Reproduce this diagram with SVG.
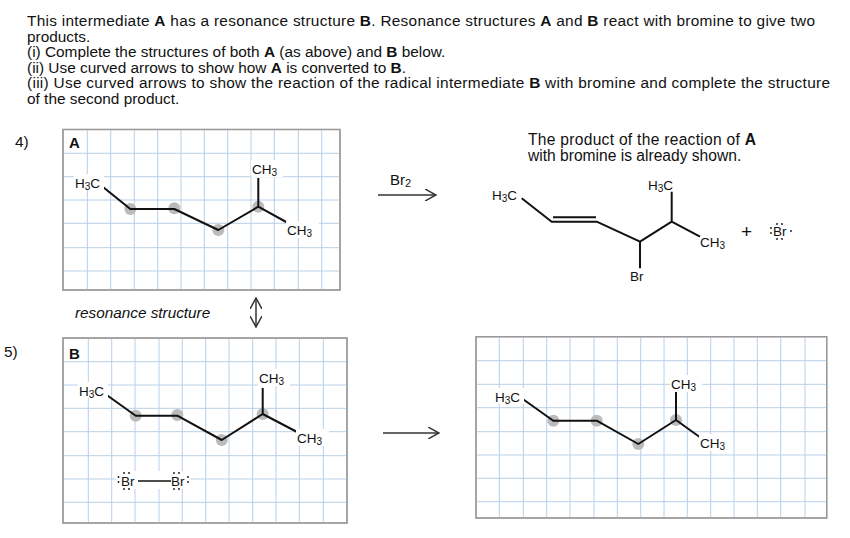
<svg xmlns="http://www.w3.org/2000/svg" width="850" height="538" viewBox="0 0 850 538">
<defs>
<style>
text{font-family:"Liberation Sans",Arial,sans-serif;fill:#111}
.h{font-size:15.4px}
.l{font-size:13.5px}
.s{font-size:10px}
.grid{stroke:#b8d0e8;stroke-width:1}
.box{fill:#fff;stroke:#999;stroke-width:1.3}
.frame{fill:none;stroke:#999;stroke-width:1.3}
.bond{stroke:#111;stroke-width:2;fill:none;stroke-linejoin:round}
.dot{fill:#bbb}
.arr{stroke:#333;stroke-width:1.5;fill:none}
.lp{fill:#111}
</style>
<marker id="ah" viewBox="0 0 12 12" refX="11" refY="6" markerWidth="12" markerHeight="12" orient="auto-start-reverse" markerUnits="userSpaceOnUse"><path d="M0,0 L11,6 L0,12" fill="none" stroke="#333" stroke-width="1.5"/></marker>
</defs>
<rect width="850" height="538" fill="#fff"/>
<g id="header" class="h">
<text x="27" y="26" textLength="788" lengthAdjust="spacing">This intermediate <tspan font-weight="bold">A</tspan> has a resonance structure <tspan font-weight="bold">B</tspan>. Resonance structures <tspan font-weight="bold">A</tspan> and <tspan font-weight="bold">B</tspan> react with bromine to give two</text>
<text x="27" y="41.5">products.</text>
<text x="27" y="57">(i) Complete the structures of both <tspan font-weight="bold">A</tspan> (as above) and <tspan font-weight="bold">B</tspan> below.</text>
<text x="27" y="72.5">(ii) Use curved arrows to show how <tspan font-weight="bold">A</tspan> is converted to <tspan font-weight="bold">B</tspan>.</text>
<text x="27" y="88" textLength="803" lengthAdjust="spacing">(iii) Use curved arrows to show the reaction of the radical intermediate <tspan font-weight="bold">B</tspan> with bromine and complete the structure</text>
<text x="27" y="103.5">of the second product.</text>
<text x="15" y="147">4)</text>
<text x="4" y="357">5)</text>
</g>
<g id="nodeA">
<rect class="box" x="63" y="129.5" width="277" height="160.5"/>
<g class="grid">
<path d="M87.3,130V290M110.7,130V290M134.3,130V290M157.7,130V290M181,130V290M204.3,130V290M227.7,130V290M251,130V290M274.3,130V290M298.3,130V290M321.7,130V290"/>
<path d="M63,153.3H340M63,176.7H340M63,200H340M63,223.3H340M63,247.7H340M63,271H340"/>
</g>
<rect class="frame" x="63" y="129.5" width="277" height="160.5"/>
<text x="69" y="148" font-size="15" font-weight="bold">A</text>
<circle class="dot" cx="130.3" cy="209" r="6"/><circle class="dot" cx="174.3" cy="208.3" r="6"/><circle class="dot" cx="218.3" cy="230" r="6"/><circle class="dot" cx="258.3" cy="206.7" r="6"/>
<path class="bond" d="M102.7,186.7L130.3,209H174.3L218.3,230L258.3,206.7L288,223M258.3,206.7V178"/>
<rect x="74" y="174" width="30" height="16" fill="#fff"/><text class="l" x="75" y="188">H<tspan class="s" dy="2">3</tspan><tspan dy="-2">C</tspan></text>
<rect x="251" y="160" width="32" height="17" fill="#fff"/><text class="l" x="252" y="174">CH<tspan class="s" dy="2">3</tspan></text>
<rect x="286" y="221" width="33" height="17" fill="#fff"/><text class="l" x="287" y="235">CH<tspan class="s" dy="2">3</tspan></text>
</g>
<g id="nodeB">
<rect class="box" x="63" y="338" width="284" height="185"/>
<g class="grid">
<path d="M88.3,338V523M111.7,338V523M135,338V523M159,338V523M182.3,338V523M205.7,338V523M229,338V523M252.7,338V523M276,338V523M299.3,338V523M323.3,338V523"/>
<path d="M63,361.7H347M63,385H347M63,408.3H347M63,431.7H347M63,455.7H347M63,479H347M63,502.3H347"/>
</g>
<rect class="frame" x="63" y="338" width="284" height="185"/>
<text x="69" y="359" font-size="15" font-weight="bold">B</text>
<circle class="dot" cx="135.7" cy="415.7" r="6"/><circle class="dot" cx="177.3" cy="415" r="6"/><circle class="dot" cx="221.7" cy="440" r="6"/><circle class="dot" cx="262.7" cy="414" r="6"/>
<path class="bond" d="M106.7,395L135.7,415.7H177.3L221.7,440L262.7,414L299,433M262.7,414V388"/>
<rect x="78" y="382" width="30" height="16" fill="#fff"/><text class="l" x="79" y="396">H<tspan class="s" dy="2">3</tspan><tspan dy="-2">C</tspan></text>
<rect x="258" y="369" width="32" height="17" fill="#fff"/><text class="l" x="259" y="383">CH<tspan class="s" dy="2">3</tspan></text>
<rect x="296" y="429" width="33" height="17" fill="#fff"/><text class="l" x="297" y="443">CH<tspan class="s" dy="2">3</tspan></text>
<g id="br2">
<rect x="116" y="471" width="74" height="18" fill="#fff"/>
<text class="l" x="121" y="486">Br</text><text class="l" x="171" y="486">Br</text>
<path d="M138,481H171" stroke="#111" stroke-width="1.3"/>
<g class="lp">
<circle cx="118.5" cy="477" r="0.9"/><circle cx="118.5" cy="482" r="0.9"/>
<circle cx="124" cy="473" r="0.9"/><circle cx="129" cy="473" r="0.9"/>
<circle cx="124" cy="489" r="0.9"/><circle cx="129" cy="489" r="0.9"/>
<circle cx="174" cy="473" r="0.9"/><circle cx="179" cy="473" r="0.9"/>
<circle cx="174" cy="489" r="0.9"/><circle cx="179" cy="489" r="0.9"/>
<circle cx="188" cy="477" r="0.9"/><circle cx="188" cy="482" r="0.9"/>
</g>
</g>
</g>
<g id="nodeProductB">
<rect class="box" x="476" y="336.7" width="350.7" height="181.3"/>
<g class="grid">
<path d="M499.3,337V518M523.3,337V518M546.7,337V518M570,337V518M594,337V518M617.3,337V518M640.7,337V518M664,337V518M687.3,337V518M710.7,337V518M734,337V518M757.3,337V518M780.7,337V518M805,337V518"/>
<path d="M476,360.7H826.7M476,384.3H826.7M476,407.7H826.7M476,431.7H826.7M476,455H826.7M476,478.3H826.7M476,501.7H826.7"/>
</g>
<rect class="frame" x="476" y="336.7" width="350.7" height="181.3"/>
<circle class="dot" cx="553.3" cy="420.7" r="6"/><circle class="dot" cx="596.7" cy="420.7" r="6"/><circle class="dot" cx="638.3" cy="444" r="6"/><circle class="dot" cx="676" cy="420" r="6"/>
<path class="bond" d="M521.7,398.3L553.3,420.7H596.7L638.3,444L676,420L700,437.3M676,420V391.7"/>
<rect x="494" y="388" width="30" height="16" fill="#fff"/><text class="l" x="495" y="402">H<tspan class="s" dy="2">3</tspan><tspan dy="-2">C</tspan></text>
<rect x="670" y="375" width="32" height="17" fill="#fff"/><text class="l" x="671" y="389">CH<tspan class="s" dy="2">3</tspan></text>
<rect x="699" y="434" width="33" height="17" fill="#fff"/><text class="l" x="700" y="448">CH<tspan class="s" dy="2">3</tspan></text>
</g>
<g id="nodeProductA">
<text x="528" y="144.5" font-size="15.6" textLength="228" lengthAdjust="spacing">The product of the reaction of <tspan font-weight="bold">A</tspan></text>
<text x="528" y="160.5" font-size="15.6">with bromine is already shown.</text>
<path class="bond" d="M521.7,198.3L551.7,221.7H596.7L640,241.7L671.7,221.7L700,236.7M671.7,221.7V191.7M640,241.7V268.3M553,217.2H596"/>
<text class="l" x="492" y="200">H<tspan class="s" dy="2">3</tspan><tspan dy="-2">C</tspan></text>
<text class="l" x="648" y="190">H<tspan class="s" dy="2">3</tspan><tspan dy="-2">C</tspan></text>
<text class="l" x="700" y="247">CH<tspan class="s" dy="2">3</tspan></text>
<text class="l" x="630" y="281">Br</text>
<text x="741" y="238" font-size="19">+</text>
<text class="l" x="773" y="236">Br</text>
<g class="lp"><circle cx="771" cy="228" r="0.9"/><circle cx="771" cy="233" r="0.9"/><circle cx="777" cy="224" r="0.9"/><circle cx="782" cy="224" r="0.9"/><circle cx="777" cy="239" r="0.9"/><circle cx="782" cy="239" r="0.9"/><circle cx="791" cy="231" r="0.9"/></g>
</g>
<g id="connectors">
<path class="arr" d="M378,195H436" marker-end="url(#ah)"/>
<text x="390" y="185" font-size="15">Br<tspan font-size="11" dy="2">2</tspan></text>
<path class="arr" d="M383,433H439" marker-end="url(#ah)"/>
<path class="arr" d="M256,298V327" marker-start="url(#ah)" marker-end="url(#ah)"/>
<text x="75" y="318" font-size="15.3" font-style="italic">resonance structure</text>
</g>
</svg>
